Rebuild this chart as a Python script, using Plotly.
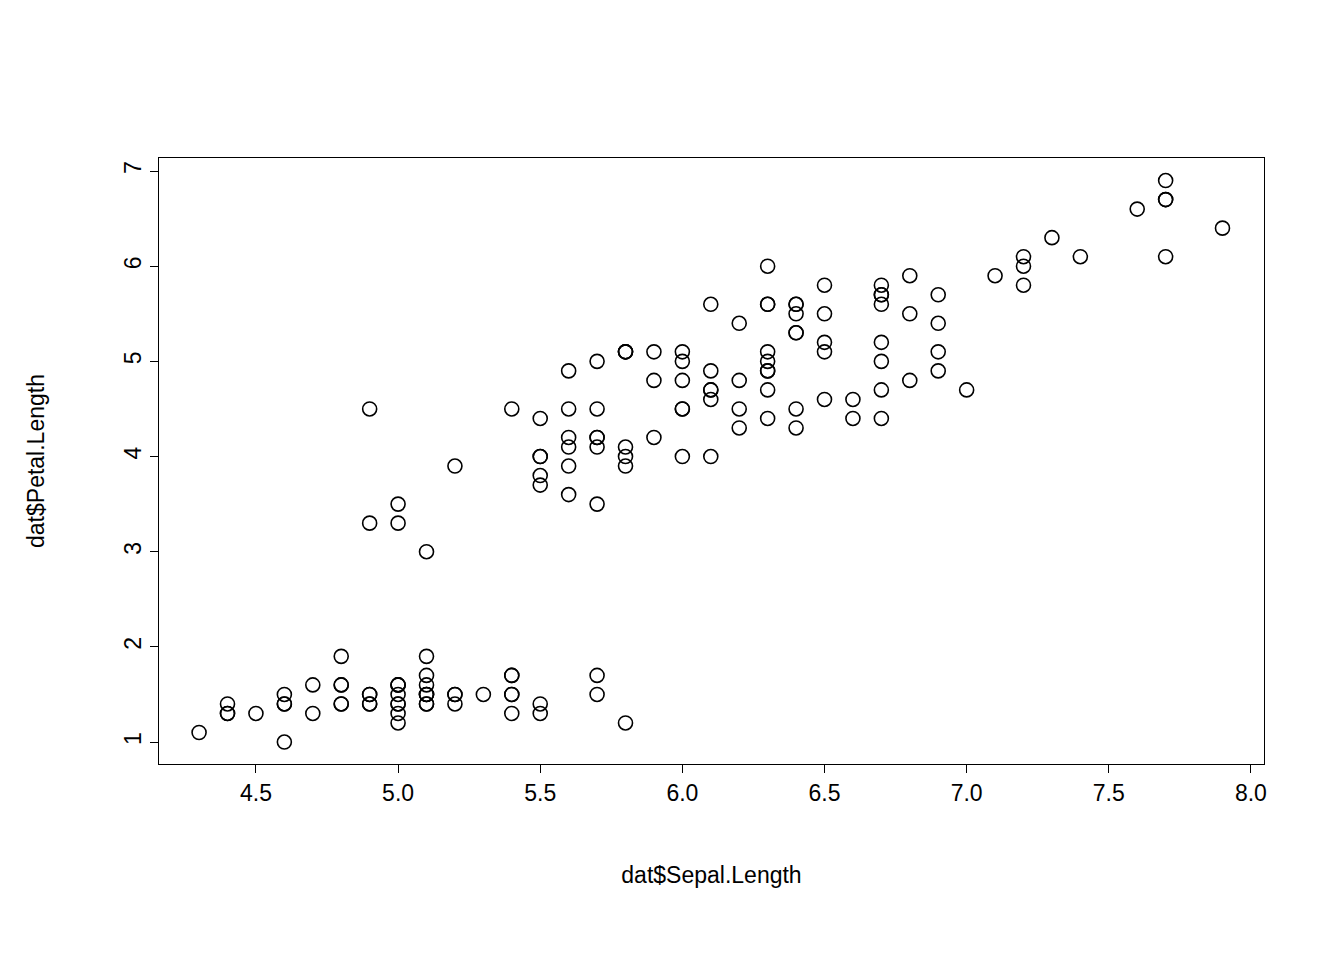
import plotly.graph_objects as go

# ── iris data ──
sepal_length = [
    5.1, 4.9, 4.7, 4.6, 5.0, 5.4, 4.6, 5.0, 4.4, 4.9, 5.4, 4.8, 4.8, 4.3, 5.8, 5.7, 5.4, 5.1, 5.7, 5.1,
    5.4, 5.1, 4.6, 5.1, 4.8, 5.0, 5.0, 5.2, 5.2, 4.7, 4.8, 5.4, 5.2, 5.5, 4.9, 5.0, 5.5, 4.9, 4.4, 5.1,
    5.0, 4.5, 4.4, 5.0, 5.1, 4.8, 5.1, 4.6, 5.3, 5.0,
    7.0, 6.4, 6.9, 5.5, 6.5, 5.7, 6.3, 4.9, 6.6, 5.2, 5.0, 5.9, 6.0, 6.1, 5.6, 6.7, 5.6, 5.8, 6.2, 5.6,
    5.9, 6.1, 6.3, 6.1, 6.4, 6.6, 6.8, 6.7, 6.0, 5.7, 5.5, 5.5, 5.8, 6.0, 5.4, 6.0, 6.7, 6.3, 5.6, 5.5,
    5.5, 6.1, 5.8, 5.0, 5.6, 5.7, 5.7, 6.2, 5.1, 5.7,
    6.3, 5.8, 7.1, 6.3, 6.5, 7.6, 4.9, 7.3, 6.7, 7.2, 6.5, 6.4, 6.8, 5.7, 5.8, 6.4, 6.5, 7.7, 7.7, 6.0,
    6.9, 5.6, 7.7, 6.3, 6.7, 7.2, 6.2, 6.1, 6.4, 7.2, 7.4, 7.9, 6.4, 6.3, 6.1, 7.7, 6.3, 6.4, 6.0, 6.9,
    6.7, 6.9, 5.8, 6.8, 6.7, 6.7, 6.3, 6.5, 6.2, 5.9,
]
petal_length = [
    1.4, 1.4, 1.3, 1.5, 1.4, 1.7, 1.4, 1.5, 1.4, 1.5, 1.5, 1.6, 1.4, 1.1, 1.2, 1.5, 1.3, 1.4, 1.7, 1.5,
    1.7, 1.5, 1.0, 1.7, 1.9, 1.6, 1.6, 1.5, 1.4, 1.6, 1.6, 1.5, 1.5, 1.4, 1.5, 1.2, 1.3, 1.4, 1.3, 1.5,
    1.3, 1.3, 1.3, 1.6, 1.9, 1.4, 1.6, 1.4, 1.5, 1.4,
    4.7, 4.5, 4.9, 4.0, 4.6, 4.5, 4.7, 3.3, 4.6, 3.9, 3.5, 4.2, 4.0, 4.7, 3.6, 4.4, 4.5, 4.1, 4.5, 3.9,
    4.8, 4.0, 4.9, 4.7, 4.3, 4.4, 4.8, 5.0, 4.5, 3.5, 3.8, 3.7, 3.9, 5.1, 4.5, 4.5, 4.7, 4.4, 4.1, 4.0,
    4.4, 4.6, 4.0, 3.3, 4.2, 4.2, 4.2, 4.3, 3.0, 4.1,
    6.0, 5.1, 5.9, 5.6, 5.8, 6.6, 4.5, 6.3, 5.8, 6.1, 5.1, 5.3, 5.5, 5.0, 5.1, 5.3, 5.5, 6.7, 6.9, 5.0,
    5.7, 4.9, 6.7, 4.9, 5.7, 6.0, 4.8, 4.9, 5.6, 5.8, 6.1, 6.4, 5.6, 5.1, 5.6, 6.1, 5.6, 5.5, 4.8, 5.4,
    5.6, 5.1, 5.1, 5.9, 5.7, 5.2, 5.0, 5.2, 5.4, 5.1,
]
x_ticks = [4.5, 5.0, 5.5, 6.0, 6.5, 7.0, 7.5, 8.0]
y_ticks = [1, 2, 3, 4, 5, 6, 7]

fig = go.Figure(go.Scatter(
    x=sepal_length, y=petal_length, mode="markers",
    marker=dict(symbol="circle-open", size=14, color="black", line=dict(width=1.6)),
    showlegend=False, hoverinfo="x+y",
))

axis_common = dict(
    showgrid=False, zeroline=False, showline=True, mirror=True,
    linecolor="black", linewidth=1.3, ticks="outside", ticklen=8,
    tickwidth=1.3, tickcolor="black", tickfont=dict(size=23, color="black"),
)

fig.update_layout(
    width=1344, height=960,
    paper_bgcolor="white", plot_bgcolor="white",
    font=dict(family="Liberation Sans, Arial, sans-serif", color="black"),
    margin=dict(l=151, r=88, t=150, b=204),
    xaxis=dict(range=[4.159, 8.046], tickvals=x_ticks,
               ticktext=[f"{v:.1f}" for v in x_ticks],
               title=dict(text="dat$Sepal.Length", font=dict(size=23), standoff=62),
               **axis_common),
    yaxis=dict(range=[0.769, 7.137], tickvals=y_ticks, tickangle=-90,
               title=dict(text="dat$Petal.Length", font=dict(size=23), standoff=68),
               **axis_common),
)

fig.write_html("out.html")
